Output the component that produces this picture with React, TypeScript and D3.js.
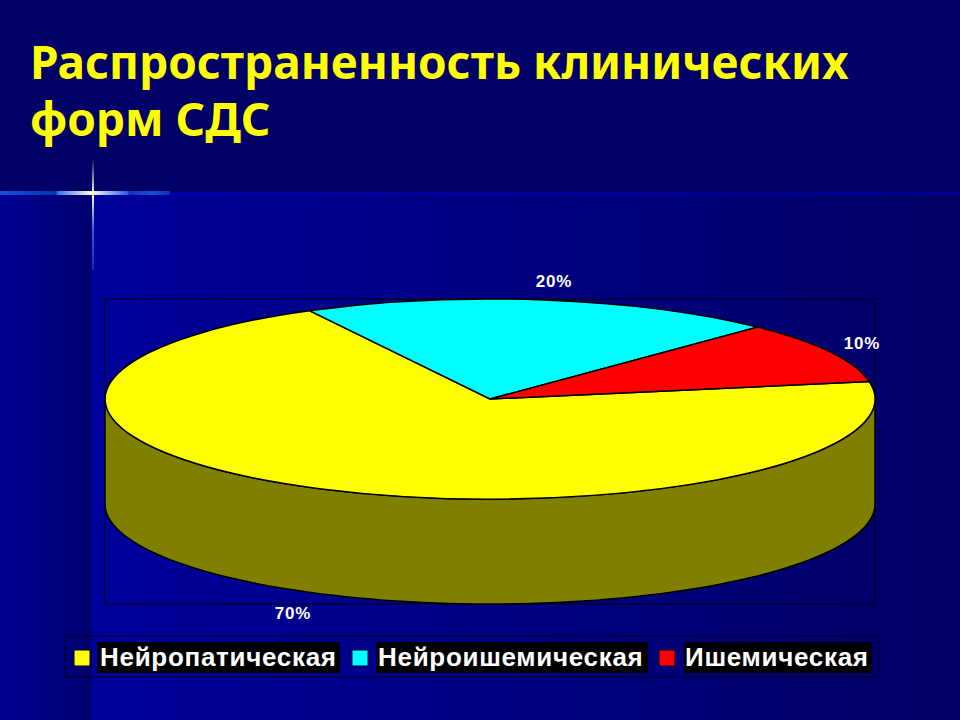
import * as d3 from "d3";

const categories = ["Нейропатическая", "Нейроишемическая", "Ишемическая"];
const values = [70, 20, 10];
const colors = ["#ffff00", "#00ffff", "#ff0000"];
const percentLabels = ["70%", "20%", "10%"];
const titleLines = ["Распространенность клинических", "форм СДС"];

const width = 960;
const height = 720;
const font = "'Liberation Sans', Arial, sans-serif";

// pie is an ellipse with a wall under it
const cx = 490;
const cy = 399;
const rx = 385;
const ry = 100;
const depth = 105;
const rad = Math.PI / 180;

const pie = d3
  .pie<number>()
  .sort(null)
  .startAngle(80 * rad)
  .endAngle(440 * rad);
const slices = pie(values);
const arc = d3.arc<d3.PieArcDatum<number>>().innerRadius(0).outerRadius(1);

// front wall, only the part of the rim facing the viewer
const wallAngles = d3.range(90, 271, 2);
const wall = d3
  .area<number>()
  .x((a) => cx + rx * Math.sin(a * rad))
  .y0((a) => cy - ry * Math.cos(a * rad))
  .y1((a) => cy - ry * Math.cos(a * rad) + depth);

const labelPos = [
  { x: 293, y: 619 },
  { x: 554, y: 287 },
  { x: 862, y: 349 },
];

const legendItems = [
  { swatch: 74, box: 97, boxW: 243, text: 100 },
  { swatch: 352, box: 376, boxW: 272, text: 378 },
  { swatch: 659, box: 684, boxW: 188, text: 685 },
];

export default function App() {
  return (
    <svg
      width={width}
      height={height}
      style={{ position: "fixed", left: 0, top: 0 }}
      fontFamily={font}
    >
      <defs>
        <linearGradient id="panel" x1="0" x2="1" y1="0" y2="0">
          <stop offset="0" stopColor="#0000a2" />
          <stop offset="1" stopColor="#000066" />
        </linearGradient>
        <linearGradient id="strip" x1="0" x2="1" y1="0" y2="0">
          <stop offset="0" stopColor="#000096" />
          <stop offset="1" stopColor="#00006e" />
        </linearGradient>
        <linearGradient id="rule" x1="0" x2="1" y1="0" y2="0">
          <stop offset="0" stopColor="#0000b0" />
          <stop offset="1" stopColor="#000090" />
        </linearGradient>
        <linearGradient id="hLine" x1="0" x2="1" y1="0" y2="0">
          <stop offset="0" stopColor="#1a4fe0" />
          <stop offset="0.33" stopColor="#0a30b0" />
          <stop offset="0.34" stopColor="#3a70f0" />
          <stop offset="0.54" stopColor="#ffffe8" />
          <stop offset="0.75" stopColor="#2a60e8" />
          <stop offset="0.76" stopColor="#1030b8" />
          <stop offset="0.9" stopColor="#1a4fe0" />
          <stop offset="1" stopColor="#0a30b0" />
        </linearGradient>
        <linearGradient id="vLine" x1="0" x2="0" y1="0" y2="1">
          <stop offset="0" stopColor="#000066" />
          <stop offset="0.32" stopColor="#ffffe8" />
          <stop offset="0.63" stopColor="#2a60e8" />
          <stop offset="1" stopColor="#0a30b0" />
        </linearGradient>
      </defs>

      <rect width={width} height={height} fill="url(#panel)" />
      <rect width={92} height={height} fill="url(#strip)" />
      <rect width={width} height={192} fill="#000066" />
      <rect y={192} width={width} height={3} fill="url(#rule)" />
      <rect y={191} width={170} height={4} fill="url(#hLine)" />
      <rect x={92} y={158} width={2} height={112} fill="url(#vLine)" />

      {titleLines.map((line, i) => (
        <text
          key={line}
          x={30}
          y={79 + i * 57}
          fontSize={46}
          fontWeight={700}
          fontFamily="'Noto Sans', sans-serif"
          fill="#ffff00"
        >
          {line}
        </text>
      ))}

      {/* plot area border */}
      <rect
        x={105}
        y={299}
        width={770}
        height={305}
        fill="none"
        stroke="#000033"
        strokeWidth={1.5}
      />

      <path
        d={wall(wallAngles) ?? ""}
        fill="#808000"
        stroke="#000000"
        strokeWidth={1.5}
      />
      <g transform={`translate(${cx},${cy}) scale(${rx},${ry})`}>
        {slices.map((s, i) => (
          <path
            key={categories[i]}
            d={arc(s) ?? ""}
            fill={colors[i]}
            stroke="#000000"
            strokeWidth={1.5}
            vectorEffect="non-scaling-stroke"
          />
        ))}
      </g>

      {percentLabels.map((label, i) => (
        <text
          key={label}
          x={labelPos[i].x}
          y={labelPos[i].y}
          textAnchor="middle"
          fontSize={17}
          fontWeight="bold"
          letterSpacing={0.8}
          fill="#ffffff"
        >
          {label}
        </text>
      ))}

      {/* legend */}
      <rect
        x={65}
        y={636}
        width={814}
        height={41}
        fill="none"
        stroke="#000033"
        strokeWidth={1.2}
      />
      {categories.map((c, i) => (
        <g key={c}>
          <rect
            x={legendItems[i].swatch}
            y={650}
            width={16}
            height={16}
            fill={colors[i]}
            stroke="#000033"
          />
          <rect
            x={legendItems[i].box}
            y={642}
            width={legendItems[i].boxW}
            height={31}
            fill="#000000"
          />
          <text
            x={legendItems[i].text}
            y={666}
            fontSize={26}
            fontWeight="bold"
            letterSpacing={0.7}
            fill="#ffffff"
          >
            {c}
          </text>
        </g>
      ))}
    </svg>
  );
}
